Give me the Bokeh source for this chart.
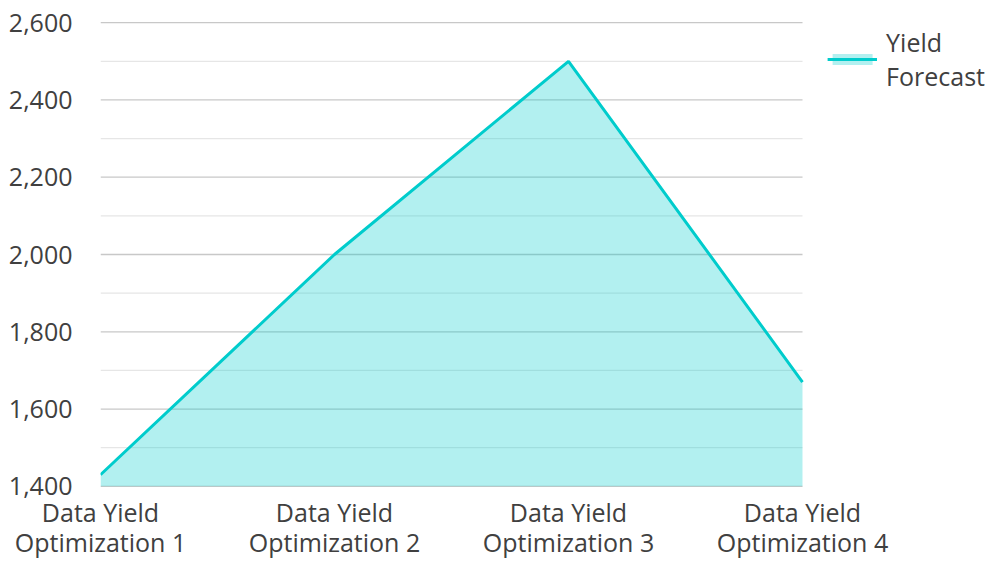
from bokeh.plotting import figure
from bokeh.models import (Range1d, FixedTicker, NumeralTickFormatter, Legend, LegendItem)
from bokeh.embed import file_html
from bokeh.resources import INLINE

categories = ["Data Yield\nOptimization 1", "Data Yield\nOptimization 2",
              "Data Yield\nOptimization 3", "Data Yield\nOptimization 4"]
yield_forecast = [1430, 2000, 2500, 1670]
series_name = "Yield\nForecast"
major_ticks = [1400, 1600, 1800, 2000, 2200, 2400, 2600]
minor_ticks = [1500, 1700, 1900, 2100, 2300, 2500]

xs = list(range(len(categories)))
FONT = "Open Sans"
TXT = "#404040"
LINE = "#00cccc"

# plot area spans the full width; categories occupy the left part (702 of 889 px)
x_end = (len(categories) - 1) * 889 / 702

p = figure(width=989, height=562, output_backend="svg", toolbar_location=None,
           x_range=Range1d(0, x_end), y_range=Range1d(1397, 2603),
           min_border_left=100, min_border_right=0, min_border_top=21, min_border_bottom=74)
p.outline_line_color = None
p.background_fill_color = "white"
p.border_fill_color = "white"
p.xgrid.grid_line_color = None
p.ygrid.grid_line_color = None

# horizontal grid lines limited to the category span
x_first, x_last = xs[0], xs[-1]
p.segment(x0=[x_first] * len(minor_ticks), x1=[x_last] * len(minor_ticks),
          y0=minor_ticks, y1=minor_ticks, line_color="#e6e6e6", line_width=1.3)
p.segment(x0=[x_first] * len(major_ticks), x1=[x_last] * len(major_ticks),
          y0=major_ticks, y1=major_ticks, line_color="#c8c8c8", line_width=1.3)

va = p.varea(x=xs, y1=[major_ticks[0]] * len(xs), y2=yield_forecast, fill_color=LINE, fill_alpha=0.3)
ln = p.line(x=xs, y=yield_forecast, line_color=LINE, line_width=3)

p.yaxis.ticker = FixedTicker(ticks=major_ticks)
p.yaxis.formatter = NumeralTickFormatter(format="0,0")
p.yaxis.axis_line_color = None
p.yaxis.major_tick_line_color = None
p.yaxis.minor_tick_line_color = None
p.yaxis.major_label_standoff = 22
p.yaxis.major_label_text_font = FONT
p.yaxis.major_label_text_font_size = "25px"
p.yaxis.major_label_text_color = TXT

p.xaxis.ticker = FixedTicker(ticks=xs)
p.xaxis.major_label_overrides = {i: c for i, c in zip(xs, categories)}
p.xaxis.axis_line_color = None
p.xaxis.major_tick_line_color = None
p.xaxis.minor_tick_line_color = None
p.xaxis.major_label_standoff = 1
p.xaxis.major_label_text_font = FONT
p.xaxis.major_label_text_font_size = "25px"
p.xaxis.major_label_text_color = TXT
p.xaxis.major_label_text_line_height = 0.9

legend = Legend(items=[LegendItem(label=series_name, renderers=[va, ln])],
                location="top_right", margin=4, padding=0, glyph_width=50, glyph_height=14,
                label_standoff=9, border_line_color=None, background_fill_alpha=0,
                label_text_font=FONT, label_text_font_size="25px", label_text_color=TXT,
                label_text_line_height=1.3)
p.add_layout(legend)

open("out.html", "w").write(file_html(p, INLINE))
